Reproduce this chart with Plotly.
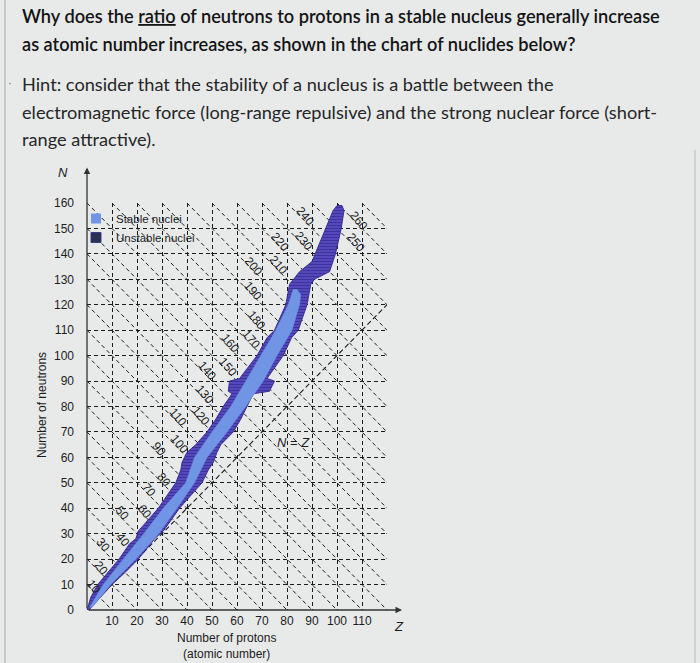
import plotly.graph_objects as go

# ---------------- data ----------------
# unstable-nuclide band: for each N, the lowest and highest Z in the band
unst_N   = [0, 5, 10, 15, 20, 26, 28, 31, 35, 40, 50, 55, 58, 62, 65, 70, 75, 80, 85, 86,
            90, 91, 100, 107, 110, 120, 128, 130, 133, 137, 140, 150, 157, 159]
unst_Zlo = [0, 1.5, 4.3, 8.5, 12.8, 17, 19.5, 20.5, 24, 28.5, 35.5, 37.5, 38, 40, 43.5, 48, 51.5, 54.5, 58, 56.5,
            57, 61, 68, 72, 75, 79.5, 81, 82.5, 85, 90, 91.3, 95.4, 98.4, 100]
unst_Zhi = [0.8, 5.5, 10, 15.5, 20.5, 25.5, 27, 30.5, 33.5, 37, 46, 48.5, 50.5, 52, 53.5, 58.5, 61.5, 64, 66.5, 73,
            75, 72, 78.5, 81.8, 84.5, 88, 89.5, 91, 97, 98.5, 99.4, 101.7, 102.8, 102]

# stable-nuclide band
stab_N   = [1, 10, 20, 30, 40, 50, 60, 70, 80, 90, 100, 110, 120, 124, 126]
stab_Zlo = [1, 6.5, 14.5, 22.7, 30.5, 39.5, 43, 50, 57.5, 63.5, 69.5, 75.5, 80.5, 82, 82.5]
stab_Zhi = [2, 9.5, 19.5, 28.7, 36, 43, 48, 56, 63.5, 70.5, 76, 82, 85, 85.5, 84]

# mass-number (A = Z + N) guide lines and their labels
A_lines  = list(range(10, 280, 10))
A_labels = [10, 20, 30, 40, 50, 60, 70, 80, 90, 100, 110, 120, 130, 140, 150, 160, 170,
            180, 190, 200, 210, 220, 230, 240, 250, 260]
# Z position where each A label sits along its line
A_label_Z = [2.8, 5.6, 6.5, 14.5, 14, 23.3, 24.8, 30.9, 28.8, 36.9, 36.3, 45.6, 47, 47.8,
             56.4, 57.2, 65.6, 67.8, 66.5, 66.6, 76.5, 77.3, 86.8, 87.2, 107.4, 108.9]

x_ticks = list(range(0, 121, 10))
x_ticktext = [""] + [str(v) for v in range(10, 111, 10)] + [""]
y_ticks = list(range(0, 161, 10))

# ---------------- layout helpers ----------------
W, H = 700, 663
L, R, T, B = 87, 387, 203, 610   # plot area in pixels
def PX(px):
    return (px - L) / (R - L)
def PY(py):
    return (B - py) / (B - T)

BG = "#e8eaea"
INK = "#1c1c1c"
SANS = "Liberation Sans, Arial, sans-serif"

fig = go.Figure()

# A = Z + N guide lines
dx, dy = [], []
for A in A_lines:
    z0 = max(0, A - 160)
    z1 = min(A, 120)
    dx += [z0, z1, None]
    dy += [A - z0, A - z1, None]
fig.add_trace(go.Scatter(x=dx, y=dy, mode="lines", showlegend=False, hoverinfo="skip",
                         line=dict(color=INK, width=1, dash="4px,3px")))
# N = Z line
fig.add_trace(go.Scatter(x=[0, 120], y=[0, 120], mode="lines", showlegend=False, hoverinfo="skip",
                         line=dict(color=INK, width=1.1, dash="5px,3px")))

# unstable band
fig.add_trace(go.Scatter(
    x=unst_Zlo + unst_Zhi[::-1], y=unst_N + unst_N[::-1],
    mode="lines", fill="toself", showlegend=False, hoverinfo="skip",
    fillcolor="#5346bd",
    fillpattern=dict(shape="-", fgcolor="#21186e", bgcolor="#5b4fc8", size=3, solidity=0.5),
    line=dict(color="#33288f", width=0.9)))
# stable band
fig.add_trace(go.Scatter(
    x=stab_Zlo + stab_Zhi[::-1], y=stab_N + stab_N[::-1],
    mode="lines", fill="toself", showlegend=False, hoverinfo="skip",
    fillcolor="#6f95e4", line=dict(color="#6f95e4", width=0.5)))

# legend entries
fig.add_trace(go.Scatter(x=[None], y=[None], mode="markers", name="Stable nuclei",
                         marker=dict(symbol="square", size=10, color="#6f95e4")))
fig.add_trace(go.Scatter(x=[None], y=[None], mode="markers", name="Unstable nuclei",
                         marker=dict(symbol="square", size=10, color="#29314e",
                                     line=dict(color="#3b3b8f", width=1))))

ann = []
def txt(px, py, text, size=12, angle=0):
    ann.append(dict(x=PX(px), y=PY(py), xref="paper", yref="paper", xanchor="center",
                    yanchor="middle", text=text, showarrow=False, textangle=angle,
                    font=dict(family=SANS, size=size, color=INK)))

# A labels
for A, z in zip(A_labels, A_label_Z):
    ann.append(dict(x=z, y=A - z + 2, xref="x", yref="y", xanchor="center", yanchor="middle",
                    text=str(A), showarrow=False,
                    textangle=50, font=dict(family=SANS, size=12, color=INK)))
ann.append(dict(x=82.5, y=66, xref="x", yref="y", xanchor="center", yanchor="middle",
                text="<i>N</i> = <i>Z</i>", showarrow=False,
                font=dict(family=SANS, size=13, color=INK)))

# axis arrows
ann.append(dict(x=126, y=0, ax=0, ay=0, xref="x", yref="y", axref="x", ayref="y", text="",
                showarrow=True, arrowhead=2, arrowsize=1, arrowwidth=1.3, arrowcolor="#333"))
ann.append(dict(x=0, y=174, ax=0, ay=0, xref="x", yref="y", axref="x", ayref="y", text="",
                showarrow=True, arrowhead=2, arrowsize=1, arrowwidth=1.3, arrowcolor="#333"))

# axis names
txt(63, 172, "<i>N</i>", 13)
txt(399, 626, "<i>Z</i>", 13)
txt(42, 405, "Number of neutrons", 12, angle=-90)
txt(226, 638, "Number of protons", 12)
txt(226, 654, "(atomic number)", 12)

# question text
q_lines = [
    (16, "Why does the <u>ratio</u> of neutrons to protons in a stable nucleus generally increase", "#141414"),
    (44, "as atomic number increases, as shown in the chart of nuclides below?", "#141414"),
    (84, "Hint: consider that the stability of a nucleus is a battle between the", "#262626"),
    (112, "electromagnetic force (long-range repulsive) and the strong nuclear force (short-", "#262626"),
    (139, "range attractive).", "#262626"),
]
for i, (py, t, col) in enumerate(q_lines):
    ann.append(dict(x=PX(20), y=PY(py), xref="paper", yref="paper", xanchor="left", yanchor="middle",
                    text=t, showarrow=False,
                    font=dict(family="Lato, Open Sans, sans-serif", size=18.2, color=col,
                              weight=600 if i < 2 else 400)))
ann.append(dict(x=PX(10), y=PY(83), xref="paper", yref="paper", xanchor="center", yanchor="middle",
                text="·", showarrow=False, font=dict(family=SANS, size=12, color="#777")))

shapes = [
    dict(type="line", xref="paper", yref="paper", x0=PX(5), x1=PX(5), y0=PY(0), y1=PY(663),
         line=dict(color="#a9abab", width=1)),
    dict(type="line", xref="paper", yref="paper", x0=PX(695), x1=PX(695), y0=PY(150), y1=PY(663),
         line=dict(color="#b9bbbb", width=1)),
]

fig.update_layout(
    width=W, height=H,
    margin=dict(l=L, r=W - R, t=T, b=H - B, pad=0, autoexpand=False),
    paper_bgcolor=BG, plot_bgcolor=BG,
    annotations=ann, shapes=shapes,
    showlegend=True,
    legend=dict(x=PX(76), y=PY(204), xanchor="left", yanchor="top", bgcolor="rgba(0,0,0,0)",
                font=dict(family=SANS, size=11.5, color=INK), itemwidth=30, tracegroupgap=0),
    xaxis=dict(range=[0, 120], tickmode="array", tickvals=x_ticks, ticktext=x_ticktext,
               showgrid=True, gridcolor=INK, gridwidth=1, griddash="4px,3px",
               zeroline=False, showline=False, ticks="", ticklabelstandoff=2, automargin=False,
               tickfont=dict(family=SANS, size=12, color=INK), fixedrange=True),
    yaxis=dict(range=[0, 160], tickmode="array", tickvals=y_ticks,
               showgrid=True, gridcolor=INK, gridwidth=1, griddash="4px,3px",
               zeroline=False, showline=False, ticks="", ticklabelstandoff=12, automargin=False,
               tickfont=dict(family=SANS, size=12, color=INK), fixedrange=True),
)

fig.write_html("out.html", config={"displayModeBar": False},
               post_script="document.body.style.margin='0px';document.body.style.overflow='hidden';"
                           "document.body.style.background='" + BG + "';")
